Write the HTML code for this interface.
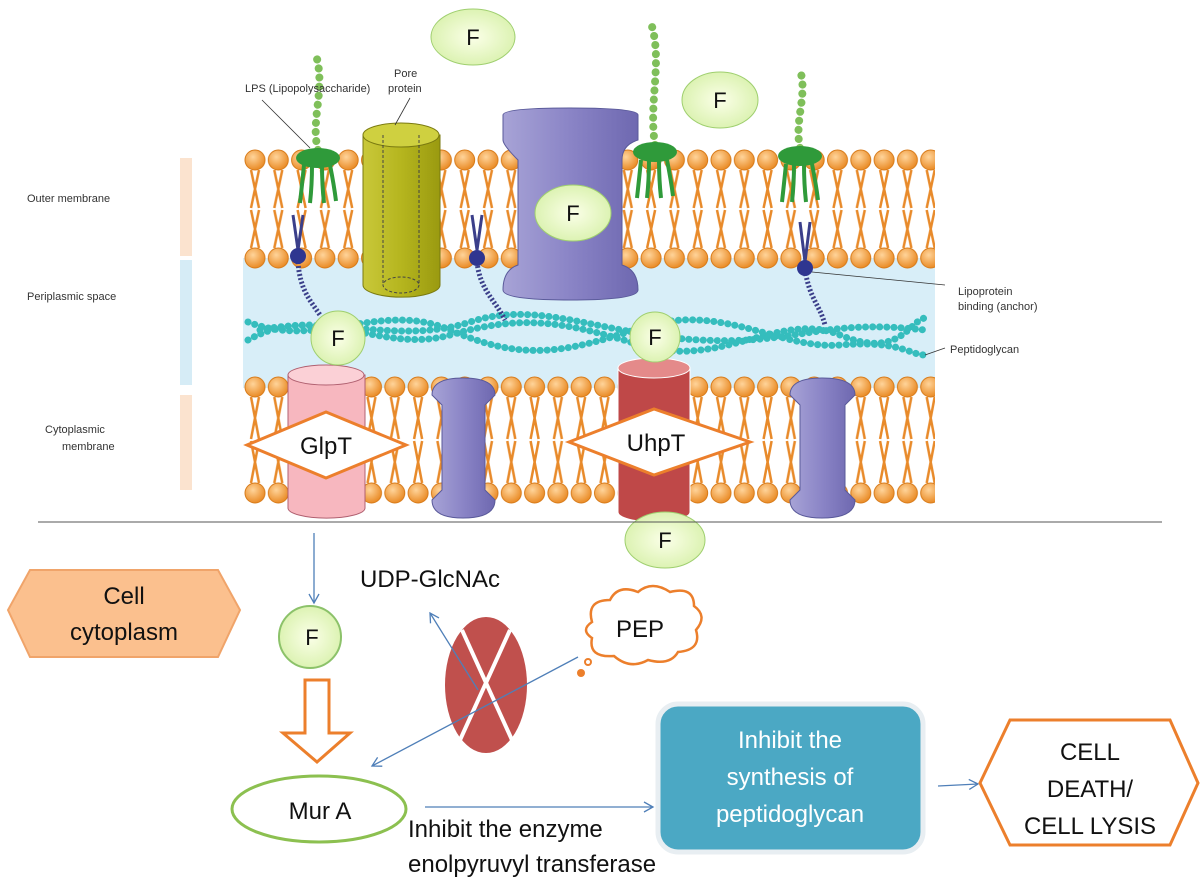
<!DOCTYPE html>
<html><head><meta charset="utf-8"><style>
html,body{margin:0;padding:0;background:#fff;}
svg{display:block;font-family:"Liberation Sans",sans-serif;}
</style></head><body>
<svg width="1200" height="884" viewBox="0 0 1200 884" xmlns="http://www.w3.org/2000/svg">
<defs>
<radialGradient id="head" cx="0.4" cy="0.35" r="0.7"><stop offset="0" stop-color="#ffd49a"/><stop offset="1" stop-color="#e8861e"/></radialGradient>
<pattern id="outer" x="243" y="148" width="23.3" height="122" patternUnits="userSpaceOnUse">
<g stroke="#e88a2a" stroke-width="2.5" fill="none">
<path d="M8 22 L16 60 M16 22 L8 60 M8 62 L16 100 M16 62 L8 100"/></g>
<circle cx="12" cy="12" r="10" fill="url(#head)" stroke="#d77a18"/>
<circle cx="12" cy="110" r="10" fill="url(#head)" stroke="#d77a18"/>
</pattern>
<pattern id="inner" x="243" y="375" width="23.3" height="130" patternUnits="userSpaceOnUse">
<g stroke="#e88a2a" stroke-width="2.5" fill="none">
<path d="M8 22 L16 64 M16 22 L8 64 M8 66 L16 108 M16 66 L8 108"/></g>
<circle cx="12" cy="12" r="10" fill="url(#head)" stroke="#d77a18"/>
<circle cx="12" cy="118" r="10" fill="url(#head)" stroke="#d77a18"/>
</pattern>
<linearGradient id="purp" x1="0" x2="1"><stop offset="0" stop-color="#a7a3d6"/><stop offset="0.5" stop-color="#8a84c6"/><stop offset="1" stop-color="#6e68b0"/></linearGradient>
<linearGradient id="olive" x1="0" x2="1"><stop offset="0" stop-color="#c9c83a"/><stop offset="0.5" stop-color="#b5b51e"/><stop offset="1" stop-color="#9a9a10"/></linearGradient>
<radialGradient id="fgr" cx="0.5" cy="0.5" r="0.6"><stop offset="0" stop-color="#fbffe8"/><stop offset="1" stop-color="#d6f0a8"/></radialGradient>
<marker id="ar" markerWidth="12" markerHeight="12" refX="10" refY="6" orient="auto" markerUnits="userSpaceOnUse"><path d="M1 1 L10 6 L1 11" fill="none" stroke="#4f7fb8" stroke-width="1.3"/></marker>
</defs>

<rect x="180" y="158" width="12" height="98" fill="#fbe3cf"/>
<rect x="180" y="260" width="12" height="125" fill="#d6ecf6"/>
<rect x="180" y="395" width="12" height="95" fill="#fbe3cf"/>
<g font-size="11" fill="#333">
<text x="27" y="202">Outer membrane</text>
<text x="27" y="300">Periplasmic space</text>
<text x="45" y="433">Cytoplasmic</text>
<text x="62" y="450">membrane</text>
</g>

<rect x="243" y="258" width="692" height="130" fill="#d8eef8"/>
<rect x="243" y="148" width="692" height="122" fill="url(#outer)"/>
<rect x="243" y="375" width="692" height="130" fill="url(#inner)"/>

<g stroke="#35bdbd" stroke-width="7" fill="none" stroke-linecap="round" stroke-dasharray="0.1 7">
<path d="M248 340 C320 300 380 355 450 335 S560 320 640 345 S780 310 840 335 S910 320 925 318"/>
<path d="M248 322 C320 350 380 300 450 330 S560 355 640 328 S780 350 840 345 S910 355 925 355"/>
<path d="M260 330 C330 315 400 345 470 322 S600 335 700 340 S820 318 925 330"/>
</g>
<line x1="925" y1="355" x2="945" y2="348" stroke="#333" stroke-width="0.8"/>
<text x="950" y="353" font-size="11" fill="#333">Peptidoglycan</text>

<g stroke="#3b3f8a" stroke-width="5" fill="none" stroke-dasharray="2 2">
<path d="M298 262 C300 290 310 300 320 315"/>
<path d="M477 262 C480 290 495 300 505 320"/>
<path d="M805 270 C810 300 820 305 825 325"/>
</g>
<g stroke="#3b3f8a" stroke-width="3" fill="none">
<path d="M293 215 L298 250 L303 215"/><path d="M472 215 L477 250 L482 215"/><path d="M800 222 L805 262 L810 222"/>
</g>
<circle cx="298" cy="256" r="8" fill="#2f3690"/>
<circle cx="477" cy="258" r="8" fill="#2f3690"/>
<circle cx="805" cy="268" r="8" fill="#2f3690"/>
<line x1="812" y1="272" x2="945" y2="285" stroke="#333" stroke-width="0.8"/>
<text x="958" y="295" font-size="11" fill="#333">Lipoprotein</text>
<text x="958" y="310" font-size="11" fill="#333">binding (anchor)</text>

<g stroke="#7fbf5a" stroke-width="8" stroke-dasharray="0.1 9" stroke-linecap="round" fill="none">
<path d="M318 150 C310 120 326 90 316 55"/><path d="M655 145 C648 100 664 60 650 20"/><path d="M800 148 C794 120 808 95 800 70"/>
</g>
<g fill="#2f9a3a">
<g transform="translate(318,0)">
<ellipse cx="0" cy="158" rx="22" ry="10"/>
<path d="M-14 165 q-2 20 -4 38 M-6 165 q0 20 -2 38 M4 165 q0 20 2 38 M12 165 q4 20 6 36" stroke="#2f9a3a" stroke-width="4" fill="none"/>
</g>
<g transform="translate(655,0)">
<ellipse cx="0" cy="152" rx="22" ry="10"/>
<path d="M-14 160 q-2 20 -4 38 M-6 160 q0 20 -2 38 M4 160 q0 20 2 38 M12 160 q4 20 6 36" stroke="#2f9a3a" stroke-width="4" fill="none"/>
</g>
<g transform="translate(800,0)">
<ellipse cx="0" cy="156" rx="22" ry="10"/>
<path d="M-14 164 q-2 20 -4 38 M-6 164 q0 20 -2 38 M4 164 q0 20 2 38 M12 164 q4 20 6 36" stroke="#2f9a3a" stroke-width="4" fill="none"/>
</g>
</g>
<line x1="310" y1="148" x2="262" y2="100" stroke="#333" stroke-width="0.8"/>
<text x="245" y="92" font-size="11" fill="#333">LPS (Lipopolysaccharide)</text>

<path d="M363 135 L363 285 A38 12 0 0 0 440 285 L440 135 Z" fill="url(#olive)" stroke="#7a7a10"/>
<ellipse cx="401" cy="135" rx="38" ry="12" fill="#cfd040" stroke="#7a7a10"/>
<g stroke="#444" stroke-dasharray="3 2" fill="none"><line x1="383" y1="135" x2="383" y2="285"/><line x1="419" y1="135" x2="419" y2="285"/><ellipse cx="401" cy="285" rx="18" ry="8"/></g>
<line x1="395" y1="125" x2="410" y2="98" stroke="#333" stroke-width="0.8"/>
<text x="394" y="77" font-size="11" fill="#333">Pore</text>
<text x="388" y="92" font-size="11" fill="#333">protein</text>

<path d="M503 115 Q503 108 570 108 Q638 108 638 115 L638 140 Q622 145 622 160 L622 265 Q638 270 638 290 Q638 300 570 300 Q503 300 503 290 Q503 270 518 265 L518 160 Q503 145 503 140 Z" fill="url(#purp)" stroke="#5a5a9a"/>

<path d="M432 395 Q432 378 463 378 Q495 378 495 395 L485 405 L485 490 L495 500 Q495 518 463 518 Q432 518 432 500 L442 490 L442 405 Z" fill="url(#purp)" stroke="#5a5a9a"/>
<path d="M790 395 Q790 378 822 378 Q855 378 855 395 L845 405 L845 490 L855 500 Q855 518 822 518 Q790 518 790 500 L800 490 L800 405 Z" fill="url(#purp)" stroke="#5a5a9a"/>
<path d="M288 375 L288 508 A38 10 0 0 0 365 508 L365 375 Z" fill="#f7b7bf" stroke="#b06070"/>
<ellipse cx="326" cy="375" rx="38" ry="10" fill="#fbd0d6" stroke="#b06070"/>
<path d="M618 368 L618 512 A36 10 0 0 0 690 512 L690 368 Z" fill="#bf4848" stroke="#fff"/>
<ellipse cx="654" cy="368" rx="36" ry="10" fill="#e48a8a" stroke="#fff"/>

<polygon points="247,445 326,412 406,445 326,478" fill="#fff" stroke="#ec7f2c" stroke-width="3"/>
<text x="326" y="454" font-size="24" text-anchor="middle" fill="#111">GlpT</text>
<polygon points="569,442 654,409 750,442 654,475" fill="#fff" stroke="#ec7f2c" stroke-width="3"/>
<text x="656" y="451" font-size="24" text-anchor="middle" fill="#111">UhpT</text>

<g font-size="22" text-anchor="middle" fill="#111">
<ellipse cx="473" cy="37" rx="42" ry="28" fill="url(#fgr)" stroke="#9fcf6f"/><text x="473" y="45">F</text>
<ellipse cx="720" cy="100" rx="38" ry="28" fill="url(#fgr)" stroke="#9fcf6f"/><text x="720" y="108">F</text>
<ellipse cx="573" cy="213" rx="38" ry="28" fill="url(#fgr)" stroke="#9fcf6f"/><text x="573" y="221">F</text>
<circle cx="338" cy="338" r="27" fill="url(#fgr)" stroke="#9fcf6f"/><text x="338" y="346">F</text>
<circle cx="655" cy="337" r="25" fill="url(#fgr)" stroke="#9fcf6f"/><text x="655" y="345">F</text>
<ellipse cx="665" cy="540" rx="40" ry="28" fill="url(#fgr)" stroke="#9fcf6f"/><text x="665" y="548">F</text>
<ellipse cx="310" cy="637" rx="31" ry="31" fill="url(#fgr)" stroke="#8cc26a" stroke-width="2"/><text x="312" y="645">F</text>
</g>

<line x1="38" y1="522" x2="1162" y2="522" stroke="#555" stroke-width="1"/>

<polygon points="30,570 218,570 240,610 218,657 30,657 8,610" fill="#fbc08e" stroke="#f0a46a" stroke-width="2"/>
<text x="124" y="604" font-size="24" text-anchor="middle" fill="#111">Cell</text>
<text x="124" y="640" font-size="24" text-anchor="middle" fill="#111">cytoplasm</text>

<line x1="314" y1="533" x2="314" y2="603" stroke="#4f7fb8" stroke-width="1.3" marker-end="url(#ar)"/>
<text x="360" y="587" font-size="24" fill="#111">UDP-GlcNAc</text>
<polygon points="305,680 329,680 329,733 350,733 317,762 283,733 305,733" fill="#fff" stroke="#ec7f2c" stroke-width="3"/>
<ellipse cx="319" cy="809" rx="87" ry="33" fill="#fff" stroke="#8cc050" stroke-width="3"/>
<text x="320" y="819" font-size="24" text-anchor="middle" fill="#111">Mur A</text>

<ellipse cx="486" cy="685" rx="41" ry="68" fill="#c0504d"/>
<path d="M462 630 L512 740 M510 630 L460 740" stroke="#fff" stroke-width="4"/>
<line x1="478" y1="690" x2="430" y2="613" stroke="#4f7fb8" stroke-width="1.3" marker-end="url(#ar)"/>
<line x1="578" y1="657" x2="372" y2="766" stroke="#4f7fb8" stroke-width="1.3" marker-end="url(#ar)"/>

<g transform="translate(0,22)">
<path d="M592 600 q-6 -22 18 -22 q8 -16 28 -8 q14 -12 32 0 q24 -6 24 14 q14 10 2 24 q6 20 -18 22 q-8 14 -30 8 q-18 10 -34 -4 q-26 2 -22 -18 q-12 -8 0 -16 z" fill="#fff" stroke="#ec7f2c" stroke-width="2.5"/>
</g>
<circle cx="588" cy="662" r="3" fill="none" stroke="#ec7f2c" stroke-width="2"/>
<circle cx="581" cy="673" r="4" fill="#ec7f2c"/>
<text x="640" y="637" font-size="24" text-anchor="middle" fill="#111">PEP</text>

<line x1="425" y1="807" x2="653" y2="807" stroke="#4f7fb8" stroke-width="1.3" marker-end="url(#ar)"/>
<text x="408" y="837" font-size="24" fill="#111">Inhibit the enzyme</text>
<text x="408" y="872" font-size="24" fill="#111">enolpyruvyl transferase</text>

<rect x="658" y="704" width="265" height="148" rx="20" fill="#4ba8c4" stroke="#e8eef2" stroke-width="5"/>
<text x="790" y="748" font-size="24" text-anchor="middle" fill="#fff">Inhibit the</text>
<text x="790" y="785" font-size="24" text-anchor="middle" fill="#fff">synthesis of</text>
<text x="790" y="822" font-size="24" text-anchor="middle" fill="#fff">peptidoglycan</text>
<line x1="938" y1="786" x2="978" y2="784" stroke="#4f7fb8" stroke-width="1.3" marker-end="url(#ar)"/>
<polygon points="1010,720 1170,720 1198,783 1170,845 1010,845 980,783" fill="#fff" stroke="#ec7f2c" stroke-width="3"/>
<text x="1090" y="760" font-size="24" text-anchor="middle" fill="#111">CELL</text>
<text x="1090" y="797" font-size="24" text-anchor="middle" fill="#111">DEATH/</text>
<text x="1090" y="834" font-size="24" text-anchor="middle" fill="#111">CELL LYSIS</text>
</svg>
</body></html>
